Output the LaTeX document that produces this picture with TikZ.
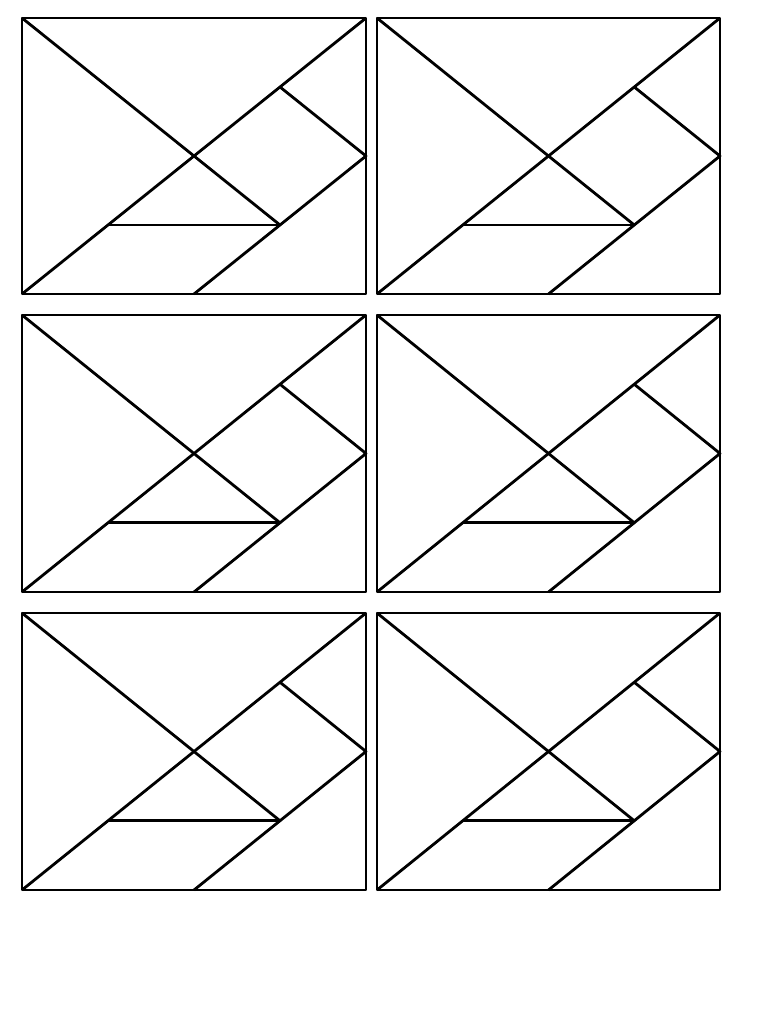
\documentclass[tikz,border=0pt]{standalone}
\usetikzlibrary{calc}
\begin{document}
\begin{tikzpicture}[x=1pt, y=-1pt, piece/.style={black, line width=2.8pt, line join=round}]
    \useasboundingbox (0,0) rectangle (768,1024);
    % Six tangram cards
    \foreach \xa/\xb in {22/366, 377/720} {
      \foreach \ya/\yb in {18/294, 315/592, 613/890} {
        % Corners
        \coordinate (tl) at (\xa,\ya);
        \coordinate (tr) at (\xb,\ya);
        \coordinate (bl) at (\xa,\yb);
        \coordinate (br) at (\xb,\yb);
        % Cut points
        \coordinate (sqb) at ($(tl)!0.75!(br)$);
        \coordinate (sqt) at ($(bl)!0.75!(tr)$);
        \coordinate (pl)  at ($(bl)!0.25!(tr)$);
        \coordinate (mr)  at ($(tr)!0.5!(br)$);
        \coordinate (mb)  at ($(bl)!0.5!(br)$);
        % Cuts
        \draw[piece] (tl) rectangle (br);
        \draw[piece] (tl) -- (sqb);
        \draw[piece] (bl) -- (tr);
        \draw[piece] (sqt) -- (mr) -- (mb);
        \draw[piece] (pl) -- (sqb);
      }
    }
\end{tikzpicture}
\end{document}
